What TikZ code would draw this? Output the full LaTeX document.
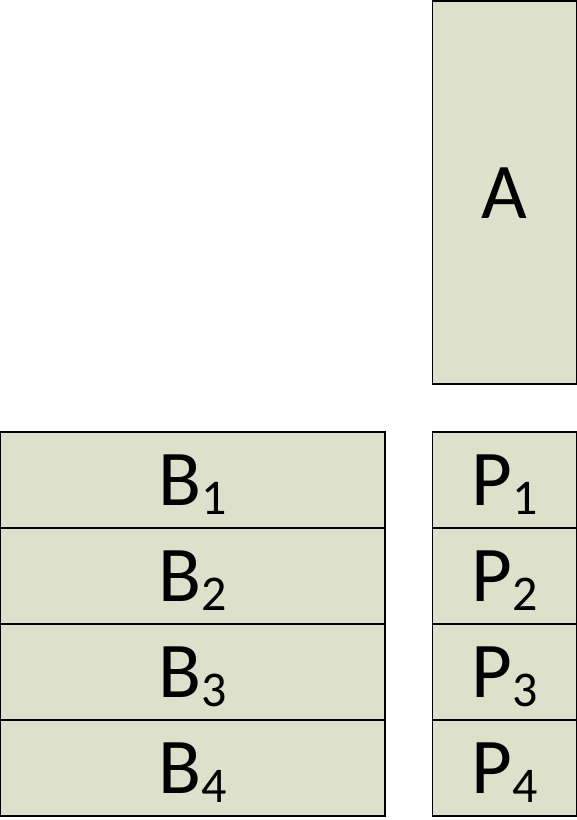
\documentclass[tikz,border=0pt]{standalone}
\usepackage{fontspec}
\setmainfont{Carlito}
\usetikzlibrary{positioning}
\definecolor{boxfill}{HTML}{DDE1CB}
\newcommand{\lowidx}[1]{\raisebox{-9pt}{\fontsize{50}{50}\selectfont #1}}
\begin{document}
\begin{tikzpicture}[
        x=1pt, y=1pt,
        node distance=0pt, % rows touch each other
        cell/.style={draw, fill=boxfill, line width=1.5pt, inner sep=0pt, outer sep=0pt,
                     minimum height=96pt, text height=51pt, text depth=0pt,
                     font=\fontsize{79}{79}\selectfont},
        wide/.style={cell, minimum width=385pt},
        narrow/.style={cell, minimum width=144pt}
        ]
        \useasboundingbox (0,0) rectangle (577,-820);

        % Tall box on top
        \node (A) [narrow, minimum height=383pt] at (504.5,-192.5) {A};

        % First row
        \node (B1) [wide] at (192.5,-480) {B\lowidx{1}};
        \node (P1) [narrow] at (504.5,-480) {P\lowidx{1}};

        % Remaining rows, stacked below
        \foreach \i [evaluate=\i as \j using int(\i-1)] in {2,3,4} {
            \node (B\i) [wide, below=of B\j] {B\lowidx{\i}};
            \node (P\i) [narrow, below=of P\j] {P\lowidx{\i}};
        }

    \end{tikzpicture}
\end{document}
